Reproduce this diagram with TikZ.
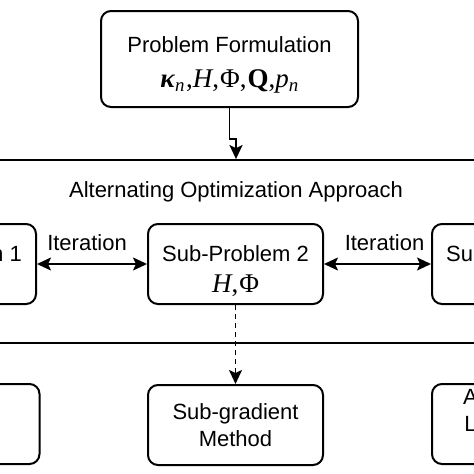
\documentclass[tikz,border=0pt]{standalone}
\usepackage{amsmath}
\usepackage{fontspec}
\setmainfont{Liberation Sans}
\newfontfamily\eqfont{Liberation Serif}
\usetikzlibrary{arrows.meta,positioning}
\newcommand{\idx}[1]{\textsubscript{\itshape #1}}
\newcommand{\eqline}[1]{{\eqfont\fontsize{27}{27}\selectfont #1}}

\begin{document}
\begin{tikzpicture}[
      x = 1pt, y = -1pt,
      every node/.style = {font = \fontsize{22}{27}\selectfont, align = center},
      box/.style = {draw, line width = 2pt, rounded corners = 10pt, inner ysep = 0pt,
                    minimum width = 175pt, minimum height = 80pt},
      frame/.style = {draw, line width = 1.8pt, minimum width = 700pt, minimum height = 182.7pt},
      link/.style = {line width = 1.9pt, -{Stealth[length = 14pt, width = 13pt, inset = 3pt]}},
      dlink/.style = {line width = 1.9pt, {Stealth[length = 14pt, width = 13pt, inset = 3pt]}-{Stealth[length = 14pt, width = 13pt, inset = 3pt]}}
      ]
      \useasboundingbox (0,0) rectangle (474,474);
      \clip (0,0) rectangle (474,474);
      \node[box, minimum width = 257pt, minimum height = 96pt] (pf) at (229.5,59)
            {\rule{0pt}{28pt}Problem Formulation\\[8pt]\eqline{\textbf{\textit{κ}}\idx{n}\kern1pt,\textit{H},\kern1ptΦ,\kern1pt\textbf{Q},\textit{p}\idx{n}}};
      \node[frame] (ao) at (236,251.35) {};
      \node (aotitle) at (236,192) {Alternating Optimization Approach};
      \node[box] (sp1) at (-51.5,264) {\rule{0pt}{30pt}Sub-Problem 1\\[4pt]\phantom{\eqline{\textit{H},Φ}}};
      \node[box] (sp2) at (235.5,264) {\rule{0pt}{30pt}Sub-Problem 2\\[4pt]\eqline{\textit{H},\kern1ptΦ}};
      \node[box] (sp3) at (519.5,264) {\rule{0pt}{30pt}Sub-Problem 3\\[4pt]\phantom{\eqline{\textit{H},Φ}}};
      \node[box] (m1) at (-48,424) {};
      \node[box] (m2) at (235.5,425) {Sub-gradient\\Method};
      \node[box] (m3) at (519.5,424) {Augmented\\Lagrangian\\Method};
      \draw[link] (pf.south) -- ++(0,31) -| (ao.north);
      \draw[dlink] (sp1) -- node[above = 9pt, xshift = -5pt] (it1) {Iteration} (sp2);
      \draw[dlink] (sp2) -- node[above = 9pt, xshift = 7pt] (it2) {Iteration} (sp3);
      \draw[link, dash pattern = on 5pt off 4pt] (sp2) -- (m2);
\end{tikzpicture}
\end{document}
